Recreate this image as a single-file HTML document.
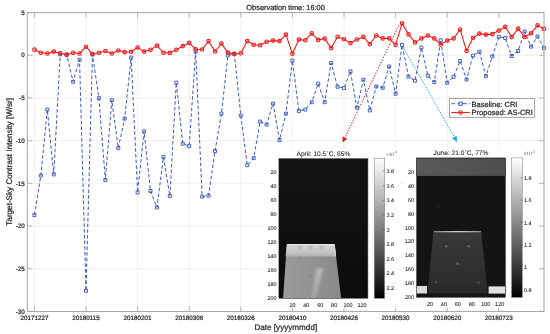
<!DOCTYPE html>
<html><head><meta charset="utf-8"><title>Observation time: 16:00</title>
<style>html,body{margin:0;padding:0;background:#fff;}body{width:550px;height:334px;overflow:hidden;}svg{display:block;}</style>
</head><body>
<svg width="550" height="334" viewBox="0 0 550 334" font-family='"Liberation Sans", Arial, Helvetica, sans-serif'><style>text{stroke:#262626;stroke-width:0.22px;text-rendering:geometricPrecision;} text.sm{stroke-width:0.08px;}</style>
<rect x="0" y="0" width="550" height="334" fill="#ffffff"/>
<path d="M34.40 12.60V311.40M86.00 12.60V311.40M137.60 12.60V311.40M189.20 12.60V311.40M240.80 12.60V311.40M292.40 12.60V311.40M344.00 12.60V311.40M395.60 12.60V311.40M447.20 12.60V311.40M498.80 12.60V311.40M27.30 55.29H544.00M27.30 97.97H544.00M27.30 140.66H544.00M27.30 183.34H544.00M27.30 226.03H544.00M27.30 268.71H544.00" stroke="#ececec" stroke-width="0.8" fill="none"/>
<polyline points="34.40,215.10 40.85,175.60 47.30,109.50 53.75,174.40 60.20,54.30 66.65,54.50 73.10,81.70 79.55,59.70 86.00,290.80 92.45,54.40 98.90,98.10 105.35,180.00 111.80,100.20 118.25,148.10 124.70,118.60 131.15,57.60 137.60,192.40 144.05,131.40 150.50,191.00 156.95,207.50 163.40,157.10 169.85,196.00 176.30,82.70 182.75,143.70 189.20,146.10 195.65,51.50 202.10,196.60 208.55,195.60 215.00,151.10 221.45,113.60 227.90,55.40 234.35,53.80 240.80,115.60 247.25,165.20 253.70,158.10 260.15,121.60 266.60,124.60 273.05,103.60 279.50,140.10 285.95,113.60 292.40,60.60 298.85,110.90 305.30,109.50 311.75,102.20 318.20,83.70 324.65,102.20 331.10,63.00 337.55,86.70 344.00,88.10 350.45,71.40 356.90,107.60 363.35,79.70 369.80,110.40 376.25,86.50 382.70,87.70 389.15,66.60 395.60,93.70 402.05,44.90 408.50,76.60 414.95,80.70 421.40,47.50 427.85,75.60 434.30,82.10 440.75,40.30 447.20,82.70 453.65,76.70 460.10,61.00 466.55,79.50 473.00,55.60 479.45,51.60 485.90,76.10 492.35,56.40 498.80,36.90 505.25,38.00 511.70,56.00 518.15,51.00 524.60,31.50 531.05,46.60 537.50,36.50 543.95,48.00" fill="none" stroke="#3d5abf" stroke-width="1.0" stroke-dasharray="3.5 2.2" stroke-linejoin="round"/>
<path d="M32.90 213.60h3v3h-3zM39.35 174.10h3v3h-3zM45.80 108.00h3v3h-3zM52.25 172.90h3v3h-3zM58.70 52.80h3v3h-3zM65.15 53.00h3v3h-3zM71.60 80.20h3v3h-3zM78.05 58.20h3v3h-3zM84.50 289.30h3v3h-3zM90.95 52.90h3v3h-3zM97.40 96.60h3v3h-3zM103.85 178.50h3v3h-3zM110.30 98.70h3v3h-3zM116.75 146.60h3v3h-3zM123.20 117.10h3v3h-3zM129.65 56.10h3v3h-3zM136.10 190.90h3v3h-3zM142.55 129.90h3v3h-3zM149.00 189.50h3v3h-3zM155.45 206.00h3v3h-3zM161.90 155.60h3v3h-3zM168.35 194.50h3v3h-3zM174.80 81.20h3v3h-3zM181.25 142.20h3v3h-3zM187.70 144.60h3v3h-3zM194.15 50.00h3v3h-3zM200.60 195.10h3v3h-3zM207.05 194.10h3v3h-3zM213.50 149.60h3v3h-3zM219.95 112.10h3v3h-3zM226.40 53.90h3v3h-3zM232.85 52.30h3v3h-3zM239.30 114.10h3v3h-3zM245.75 163.70h3v3h-3zM252.20 156.60h3v3h-3zM258.65 120.10h3v3h-3zM265.10 123.10h3v3h-3zM271.55 102.10h3v3h-3zM278.00 138.60h3v3h-3zM284.45 112.10h3v3h-3zM290.90 59.10h3v3h-3zM297.35 109.40h3v3h-3zM303.80 108.00h3v3h-3zM310.25 100.70h3v3h-3zM316.70 82.20h3v3h-3zM323.15 100.70h3v3h-3zM329.60 61.50h3v3h-3zM336.05 85.20h3v3h-3zM342.50 86.60h3v3h-3zM348.95 69.90h3v3h-3zM355.40 106.10h3v3h-3zM361.85 78.20h3v3h-3zM368.30 108.90h3v3h-3zM374.75 85.00h3v3h-3zM381.20 86.20h3v3h-3zM387.65 65.10h3v3h-3zM394.10 92.20h3v3h-3zM400.55 43.40h3v3h-3zM407.00 75.10h3v3h-3zM413.45 79.20h3v3h-3zM419.90 46.00h3v3h-3zM426.35 74.10h3v3h-3zM432.80 80.60h3v3h-3zM439.25 38.80h3v3h-3zM445.70 81.20h3v3h-3zM452.15 75.20h3v3h-3zM458.60 59.50h3v3h-3zM465.05 78.00h3v3h-3zM471.50 54.10h3v3h-3zM477.95 50.10h3v3h-3zM484.40 74.60h3v3h-3zM490.85 54.90h3v3h-3zM497.30 35.40h3v3h-3zM503.75 36.50h3v3h-3zM510.20 54.50h3v3h-3zM516.65 49.50h3v3h-3zM523.10 30.00h3v3h-3zM529.55 45.10h3v3h-3zM536.00 35.00h3v3h-3zM542.45 46.50h3v3h-3z" fill="none" stroke="#3652b8" stroke-width="0.9"/>
<polyline points="34.40,49.60 40.85,52.70 47.30,53.50 53.75,51.60 60.20,53.20 66.65,54.80 73.10,52.70 79.55,53.50 86.00,46.70 92.45,54.10 98.90,52.70 105.35,51.00 111.80,53.50 118.25,50.50 124.70,52.10 131.15,51.80 137.60,47.50 144.05,51.60 150.50,49.70 156.95,45.60 163.40,52.70 169.85,52.90 176.30,49.70 182.75,46.10 189.20,42.80 195.65,49.30 202.10,49.50 208.55,41.10 215.00,51.50 221.45,43.60 227.90,52.60 234.35,53.90 240.80,53.20 247.25,41.10 253.70,44.70 260.15,45.20 266.60,41.70 273.05,40.60 279.50,41.10 285.95,34.60 292.40,53.70 298.85,39.60 305.30,40.20 311.75,33.40 318.20,39.90 324.65,38.60 331.10,48.10 337.55,36.70 344.00,39.20 350.45,43.10 356.90,39.50 363.35,36.90 369.80,44.20 376.25,35.50 382.70,38.40 389.15,38.40 395.60,44.80 402.05,23.30 408.50,34.40 414.95,42.40 421.40,38.40 427.85,35.50 434.30,38.40 440.75,44.50 447.20,40.60 453.65,38.40 460.10,29.50 466.55,50.80 473.00,37.70 479.45,33.60 485.90,34.60 492.35,34.10 498.80,30.60 505.25,26.80 511.70,37.10 518.15,28.60 524.60,36.90 531.05,33.30 537.50,25.30 543.95,28.90" fill="none" stroke="#f41c1c" stroke-width="1.1" stroke-linejoin="round"/>
<g fill="none" stroke="#f41c1c" stroke-width="1.15"><circle cx="34.40" cy="49.60" r="1.75"/><circle cx="40.85" cy="52.70" r="1.75"/><circle cx="47.30" cy="53.50" r="1.75"/><circle cx="53.75" cy="51.60" r="1.75"/><circle cx="60.20" cy="53.20" r="1.75"/><circle cx="66.65" cy="54.80" r="1.75"/><circle cx="73.10" cy="52.70" r="1.75"/><circle cx="79.55" cy="53.50" r="1.75"/><circle cx="86.00" cy="46.70" r="1.75"/><circle cx="92.45" cy="54.10" r="1.75"/><circle cx="98.90" cy="52.70" r="1.75"/><circle cx="105.35" cy="51.00" r="1.75"/><circle cx="111.80" cy="53.50" r="1.75"/><circle cx="118.25" cy="50.50" r="1.75"/><circle cx="124.70" cy="52.10" r="1.75"/><circle cx="131.15" cy="51.80" r="1.75"/><circle cx="137.60" cy="47.50" r="1.75"/><circle cx="144.05" cy="51.60" r="1.75"/><circle cx="150.50" cy="49.70" r="1.75"/><circle cx="156.95" cy="45.60" r="1.75"/><circle cx="163.40" cy="52.70" r="1.75"/><circle cx="169.85" cy="52.90" r="1.75"/><circle cx="176.30" cy="49.70" r="1.75"/><circle cx="182.75" cy="46.10" r="1.75"/><circle cx="189.20" cy="42.80" r="1.75"/><circle cx="195.65" cy="49.30" r="1.75"/><circle cx="202.10" cy="49.50" r="1.75"/><circle cx="208.55" cy="41.10" r="1.75"/><circle cx="215.00" cy="51.50" r="1.75"/><circle cx="221.45" cy="43.60" r="1.75"/><circle cx="227.90" cy="52.60" r="1.75"/><circle cx="234.35" cy="53.90" r="1.75"/><circle cx="240.80" cy="53.20" r="1.75"/><circle cx="247.25" cy="41.10" r="1.75"/><circle cx="253.70" cy="44.70" r="1.75"/><circle cx="260.15" cy="45.20" r="1.75"/><circle cx="266.60" cy="41.70" r="1.75"/><circle cx="273.05" cy="40.60" r="1.75"/><circle cx="279.50" cy="41.10" r="1.75"/><circle cx="285.95" cy="34.60" r="1.75"/><circle cx="292.40" cy="53.70" r="1.75"/><circle cx="298.85" cy="39.60" r="1.75"/><circle cx="305.30" cy="40.20" r="1.75"/><circle cx="311.75" cy="33.40" r="1.75"/><circle cx="318.20" cy="39.90" r="1.75"/><circle cx="324.65" cy="38.60" r="1.75"/><circle cx="331.10" cy="48.10" r="1.75"/><circle cx="337.55" cy="36.70" r="1.75"/><circle cx="344.00" cy="39.20" r="1.75"/><circle cx="350.45" cy="43.10" r="1.75"/><circle cx="356.90" cy="39.50" r="1.75"/><circle cx="363.35" cy="36.90" r="1.75"/><circle cx="369.80" cy="44.20" r="1.75"/><circle cx="376.25" cy="35.50" r="1.75"/><circle cx="382.70" cy="38.40" r="1.75"/><circle cx="389.15" cy="38.40" r="1.75"/><circle cx="395.60" cy="44.80" r="1.75"/><circle cx="402.05" cy="23.30" r="1.75"/><circle cx="408.50" cy="34.40" r="1.75"/><circle cx="414.95" cy="42.40" r="1.75"/><circle cx="421.40" cy="38.40" r="1.75"/><circle cx="427.85" cy="35.50" r="1.75"/><circle cx="434.30" cy="38.40" r="1.75"/><circle cx="440.75" cy="44.50" r="1.75"/><circle cx="447.20" cy="40.60" r="1.75"/><circle cx="453.65" cy="38.40" r="1.75"/><circle cx="460.10" cy="29.50" r="1.75"/><circle cx="466.55" cy="50.80" r="1.75"/><circle cx="473.00" cy="37.70" r="1.75"/><circle cx="479.45" cy="33.60" r="1.75"/><circle cx="485.90" cy="34.60" r="1.75"/><circle cx="492.35" cy="34.10" r="1.75"/><circle cx="498.80" cy="30.60" r="1.75"/><circle cx="505.25" cy="26.80" r="1.75"/><circle cx="511.70" cy="37.10" r="1.75"/><circle cx="518.15" cy="28.60" r="1.75"/><circle cx="524.60" cy="36.90" r="1.75"/><circle cx="531.05" cy="33.30" r="1.75"/><circle cx="537.50" cy="25.30" r="1.75"/><circle cx="543.95" cy="28.90" r="1.75"/></g>
<line x1="398.80" y1="25.40" x2="344.58" y2="138.27" stroke="#dc1e1e" stroke-width="1" stroke-dasharray="1.5 1.4"/>
<path d="M342.50 142.60L342.49 136.38L347.36 138.72Z" fill="#dc1e1e"/>
<line x1="402.80" y1="46.50" x2="454.73" y2="137.73" stroke="#1ea6e6" stroke-width="1" stroke-dasharray="1.5 1.4"/>
<path d="M457.10 141.90L451.98 138.37L456.68 135.70Z" fill="#1ea6e6"/>
<path d="M34.40 311.40v-5M34.40 12.60v5M86.00 311.40v-5M86.00 12.60v5M137.60 311.40v-5M137.60 12.60v5M189.20 311.40v-5M189.20 12.60v5M240.80 311.40v-5M240.80 12.60v5M292.40 311.40v-5M292.40 12.60v5M344.00 311.40v-5M344.00 12.60v5M395.60 311.40v-5M395.60 12.60v5M447.20 311.40v-5M447.20 12.60v5M498.80 311.40v-5M498.80 12.60v5M27.30 12.60h5M544.00 12.60h-5M27.30 55.29h5M544.00 55.29h-5M27.30 97.97h5M544.00 97.97h-5M27.30 140.66h5M544.00 140.66h-5M27.30 183.34h5M544.00 183.34h-5M27.30 226.03h5M544.00 226.03h-5M27.30 268.71h5M544.00 268.71h-5M27.30 311.40h5M544.00 311.40h-5" stroke="#a8a8a8" stroke-width="0.8" fill="none"/>
<rect x="27.30" y="12.60" width="516.70" height="298.80" fill="none" stroke="#a2a2a2" stroke-width="1.0"/>
<text x="34.40" y="320" font-size="6.3" fill="#262626" text-anchor="middle">20171227</text>
<text x="86.00" y="320" font-size="6.3" fill="#262626" text-anchor="middle">20180115</text>
<text x="137.60" y="320" font-size="6.3" fill="#262626" text-anchor="middle">20180201</text>
<text x="189.20" y="320" font-size="6.3" fill="#262626" text-anchor="middle">20180306</text>
<text x="240.80" y="320" font-size="6.3" fill="#262626" text-anchor="middle">20180326</text>
<text x="292.40" y="320" font-size="6.3" fill="#262626" text-anchor="middle">20180410</text>
<text x="344.00" y="320" font-size="6.3" fill="#262626" text-anchor="middle">20180426</text>
<text x="395.60" y="320" font-size="6.3" fill="#262626" text-anchor="middle">20180530</text>
<text x="447.20" y="320" font-size="6.3" fill="#262626" text-anchor="middle">20180620</text>
<text x="498.80" y="320" font-size="6.3" fill="#262626" text-anchor="middle">20180723</text>
<text x="24.8" y="14.80" font-size="6.3" fill="#262626" text-anchor="end">5</text>
<text x="24.8" y="57.49" font-size="6.3" fill="#262626" text-anchor="end">0</text>
<text x="24.8" y="100.17" font-size="6.3" fill="#262626" text-anchor="end">-5</text>
<text x="24.8" y="142.86" font-size="6.3" fill="#262626" text-anchor="end">-10</text>
<text x="24.8" y="185.54" font-size="6.3" fill="#262626" text-anchor="end">-15</text>
<text x="24.8" y="228.23" font-size="6.3" fill="#262626" text-anchor="end">-20</text>
<text x="24.8" y="270.91" font-size="6.3" fill="#262626" text-anchor="end">-25</text>
<text x="24.8" y="313.60" font-size="6.3" fill="#262626" text-anchor="end">-30</text>
<text x="285.6" y="9.8" font-size="7.4" fill="#262626" text-anchor="middle">Observation time: 16:00</text>
<text x="285.8" y="330" font-size="8.15" fill="#262626" text-anchor="middle">Date [yyyymmdd]</text>
<text transform="translate(12.4 161.8) rotate(-90)" font-size="8.15" fill="#262626" text-anchor="middle">Target-Sky Contrast Intensity [W/sr]</text>
<rect x="449.4" y="98.4" width="85.2" height="18.9" fill="#ffffff" stroke="#8f8f8f" stroke-width="0.8"/>
<path d="M451.3 103.7H454.9M457.4 103.7H459.5M462.2 103.7H466.8M469.1 103.7H469.9" stroke="#3d5abf" stroke-width="1.0"/>
<rect x="459.0" y="102.1" width="3.2" height="3.2" fill="none" stroke="#3652b8" stroke-width="0.9"/>
<line x1="451.3" y1="112.5" x2="469.8" y2="112.5" stroke="#f41c1c" stroke-width="1.1"/>
<circle cx="460.5" cy="112.5" r="1.75" fill="none" stroke="#f41c1c" stroke-width="1.15"/>
<text x="471.6" y="106.8" font-size="7.5" fill="#262626">Baseline: CRI</text>
<text x="471.6" y="115.2" font-size="7.5" fill="#262626">Proposed: AS-CRI</text>
<rect x="263.7" y="149.5" width="135.30" height="158.10" fill="#ffffff"/>
<defs><filter id="bl1" x="-5%" y="-5%" width="110%" height="110%"><feGaussianBlur stdDeviation="0.75"/></filter>
<filter id="bl1b" x="-50%" y="-20%" width="200%" height="140%"><feGaussianBlur stdDeviation="0.8"/></filter><filter id="bl1c" x="-50%" y="-50%" width="200%" height="200%"><feGaussianBlur stdDeviation="0.8"/></filter>
<linearGradient id="tg1" x1="0" y1="0" x2="1" y2="0"><stop offset="0" stop-color="#9c9c9c"/><stop offset="0.5" stop-color="#929292"/><stop offset="1" stop-color="#8a8a8a"/></linearGradient><linearGradient id="st1" x1="0" y1="0" x2="0" y2="1"><stop offset="0" stop-color="#b6b6b6"/><stop offset="1" stop-color="#a2a2a2"/></linearGradient>
<linearGradient id="tb1" x1="0" y1="0" x2="0" y2="1"><stop offset="0" stop-color="#d8d8d8"/><stop offset="0.7" stop-color="#c2c2c2"/><stop offset="1" stop-color="#b0b0b0"/></linearGradient>
<linearGradient id="bk1" x1="0" y1="0" x2="0" y2="1"><stop offset="0" stop-color="#131313"/><stop offset="1" stop-color="#0c0c0c"/></linearGradient>
<clipPath id="cp1"><rect x="278.9" y="158.6" width="89.00" height="139.70"/></clipPath></defs>
<g clip-path="url(#cp1)"><rect x="278.9" y="158.6" width="89.00" height="139.70" fill="url(#bk1)"/>
<g filter="url(#bl1)">
<polygon points="286.9,244.1 334.6,244.1 341.2,299 283.0,299" fill="url(#tg1)"/>
<polygon points="286.9,244.1 334.6,244.1 336.1,256.6 285.6,256.6" fill="url(#tb1)"/>
<rect x="287.5" y="244.0" width="46.5" height="1.2" fill="#e4e4e4"/><polygon points="333.4,244.6 334.8,244.6 336.2,256.6 334.8,256.6" fill="#d0d0d0"/>
<g filter="url(#bl1c)"><circle cx="299.9" cy="247.6" r="1.6" fill="#a2a2a2"/><circle cx="310.2" cy="247.6" r="1.6" fill="#a2a2a2"/><circle cx="321.3" cy="247.6" r="1.6" fill="#a2a2a2"/>
<circle cx="299.9" cy="258.6" r="1.5" fill="#868686"/><circle cx="322.0" cy="258.6" r="1.5" fill="#868686"/><circle cx="311" cy="276" r="1.1" fill="#7a7a7a"/></g>
<rect x="342" y="280" width="24" height="14" fill="#111111"/>
</g>
<polygon points="316.3,268.2 323.5,268.2 315.7,299 311,299" fill="url(#st1)" filter="url(#bl1b)"/>
</g>
<rect x="278.9" y="158.6" width="89.00" height="139.70" fill="none" stroke="#1a1a1a" stroke-width="0.5"/>
<text x="276.50" y="174.42" font-size="5.4" fill="#262626" class="sm" text-anchor="end">20</text>
<text x="276.50" y="188.39" font-size="5.4" fill="#262626" class="sm" text-anchor="end">40</text>
<text x="276.50" y="202.36" font-size="5.4" fill="#262626" class="sm" text-anchor="end">60</text>
<text x="276.50" y="216.33" font-size="5.4" fill="#262626" class="sm" text-anchor="end">80</text>
<text x="276.50" y="230.30" font-size="5.4" fill="#262626" class="sm" text-anchor="end">100</text>
<text x="276.50" y="244.27" font-size="5.4" fill="#262626" class="sm" text-anchor="end">120</text>
<text x="276.50" y="258.24" font-size="5.4" fill="#262626" class="sm" text-anchor="end">140</text>
<text x="276.50" y="272.21" font-size="5.4" fill="#262626" class="sm" text-anchor="end">160</text>
<text x="276.50" y="286.18" font-size="5.4" fill="#262626" class="sm" text-anchor="end">180</text>
<text x="276.50" y="300.15" font-size="5.4" fill="#262626" class="sm" text-anchor="end">200</text>
<text x="292.46" y="306.50" font-size="5.5" fill="#262626" class="sm" text-anchor="middle">20</text>
<text x="306.36" y="306.50" font-size="5.5" fill="#262626" class="sm" text-anchor="middle">40</text>
<text x="320.27" y="306.50" font-size="5.5" fill="#262626" class="sm" text-anchor="middle">60</text>
<text x="334.18" y="306.50" font-size="5.5" fill="#262626" class="sm" text-anchor="middle">80</text>
<text x="348.08" y="306.50" font-size="5.5" fill="#262626" class="sm" text-anchor="middle">100</text>
<text x="361.99" y="306.50" font-size="5.5" fill="#262626" class="sm" text-anchor="middle">120</text>
<text x="323.40" y="156.00" font-size="6.6" fill="#262626" class="sm" text-anchor="middle">April: 10.5<tspan font-size="4.2" dx="0.5" dy="-2.3">&#176;</tspan><tspan dx="0.2" dy="2.3">C, 65%</tspan></text>
<defs><linearGradient id="cg374" x1="0" y1="0" x2="0" y2="1"><stop offset="0" stop-color="#ffffff"/><stop offset="1" stop-color="#000000"/></linearGradient></defs>
<rect x="374.2" y="158.6" width="10.50" height="139.70" fill="url(#cg374)" stroke="#8a8a8a" stroke-width="0.6"/>
<text x="386.50" y="173.00" font-size="5.4" fill="#262626" class="sm">3.8</text>
<text x="386.50" y="187.64" font-size="5.4" fill="#262626" class="sm">3.6</text>
<text x="386.50" y="202.28" font-size="5.4" fill="#262626" class="sm">3.4</text>
<text x="386.50" y="216.92" font-size="5.4" fill="#262626" class="sm">3.2</text>
<text x="386.50" y="231.56" font-size="5.4" fill="#262626" class="sm">3</text>
<text x="386.50" y="246.20" font-size="5.4" fill="#262626" class="sm">2.8</text>
<text x="386.50" y="260.84" font-size="5.4" fill="#262626" class="sm">2.6</text>
<text x="386.50" y="275.48" font-size="5.4" fill="#262626" class="sm">2.4</text>
<text x="386.50" y="290.12" font-size="5.4" fill="#262626" class="sm">2.2</text>
<path d="M384.70 171.00h-1.6M384.70 185.64h-1.6M384.70 200.28h-1.6M384.70 214.92h-1.6M384.70 229.56h-1.6M384.70 244.20h-1.6M384.70 258.84h-1.6M384.70 273.48h-1.6M384.70 288.12h-1.6" stroke="#262626" stroke-width="0.5"/>
<text x="385.90" y="155.60" font-size="4.8" fill="#5a5a5a" style="stroke:none">&#215;10<tspan font-size="3.5" dy="-2.3">-3</tspan></text>
<rect x="404.5" y="149.5" width="133.50" height="158.10" fill="#ffffff"/>
<defs><filter id="bl2" x="-5%" y="-5%" width="110%" height="110%"><feGaussianBlur stdDeviation="0.6"/></filter>
<filter id="bl2b" x="-10%" y="-10%" width="120%" height="120%"><feGaussianBlur stdDeviation="0.55"/></filter>
<linearGradient id="bd2" x1="0" y1="0" x2="1" y2="0"><stop offset="0" stop-color="#5a5a5a"/><stop offset="1" stop-color="#4e4e4e"/></linearGradient>
<linearGradient id="tz2" x1="0" y1="0" x2="0" y2="1"><stop offset="0" stop-color="#393939"/><stop offset="1" stop-color="#2a2a2a"/></linearGradient>
<linearGradient id="tl2" x1="0" y1="0" x2="1" y2="0"><stop offset="0" stop-color="#808080"/><stop offset="0.5" stop-color="#d0d0d0"/><stop offset="1" stop-color="#909090"/></linearGradient>
<clipPath id="cp2"><rect x="416.4" y="157.9" width="89.20" height="139.50"/></clipPath></defs>
<g clip-path="url(#cp2)"><rect x="416.4" y="157.9" width="89.20" height="139.50" fill="#141414"/>
<rect x="416" y="157.2" width="90" height="18.7" fill="url(#bd2)" filter="url(#bl2)"/><rect x="416.4" y="157.9" width="89.2" height="0.8" fill="#3c3c3c"/>
<polygon points="433.4,231.7 481.1,231.7 487.8,293.5 427.6,293.5" fill="url(#tz2)" filter="url(#bl2b)"/>
<g filter="url(#bl2)">
<rect x="433.6" y="231.0" width="47.4" height="1.3" fill="url(#tl2)"/>
<rect x="416" y="286.0" width="11.0" height="7.5" fill="#dcdcdc"/>
<rect x="488.6" y="286.4" width="16.4" height="7.2" fill="#e2e2e2"/>
<circle cx="446.2" cy="246.3" r="1.2" fill="#686868"/><circle cx="468.6" cy="246.3" r="1.2" fill="#686868"/><circle cx="457.6" cy="263.7" r="1.2" fill="#686868"/>
<circle cx="436.0" cy="282.3" r="1.1" fill="#5a5a5a"/><circle cx="478.5" cy="282.6" r="1.1" fill="#5a5a5a"/><circle cx="438" cy="206" r="0.7" fill="#404040"/>
</g></g>
<rect x="416.4" y="157.9" width="89.20" height="139.50" fill="none" stroke="#1a1a1a" stroke-width="0.5"/>
<text x="414.00" y="173.70" font-size="5.4" fill="#262626" class="sm" text-anchor="end">20</text>
<text x="414.00" y="187.65" font-size="5.4" fill="#262626" class="sm" text-anchor="end">40</text>
<text x="414.00" y="201.60" font-size="5.4" fill="#262626" class="sm" text-anchor="end">60</text>
<text x="414.00" y="215.55" font-size="5.4" fill="#262626" class="sm" text-anchor="end">80</text>
<text x="414.00" y="229.50" font-size="5.4" fill="#262626" class="sm" text-anchor="end">100</text>
<text x="414.00" y="243.45" font-size="5.4" fill="#262626" class="sm" text-anchor="end">120</text>
<text x="414.00" y="257.40" font-size="5.4" fill="#262626" class="sm" text-anchor="end">140</text>
<text x="414.00" y="271.35" font-size="5.4" fill="#262626" class="sm" text-anchor="end">160</text>
<text x="414.00" y="285.30" font-size="5.4" fill="#262626" class="sm" text-anchor="end">180</text>
<text x="414.00" y="299.25" font-size="5.4" fill="#262626" class="sm" text-anchor="end">200</text>
<text x="429.99" y="305.60" font-size="5.5" fill="#262626" class="sm" text-anchor="middle">20</text>
<text x="443.93" y="305.60" font-size="5.5" fill="#262626" class="sm" text-anchor="middle">40</text>
<text x="457.86" y="305.60" font-size="5.5" fill="#262626" class="sm" text-anchor="middle">60</text>
<text x="471.80" y="305.60" font-size="5.5" fill="#262626" class="sm" text-anchor="middle">80</text>
<text x="485.74" y="305.60" font-size="5.5" fill="#262626" class="sm" text-anchor="middle">100</text>
<text x="499.68" y="305.60" font-size="5.5" fill="#262626" class="sm" text-anchor="middle">120</text>
<text x="461.00" y="155.30" font-size="6.6" fill="#262626" class="sm" text-anchor="middle">June: 21.0<tspan font-size="4.2" dx="0.5" dy="-2.3">&#176;</tspan><tspan dx="0.2" dy="2.3">C, 77%</tspan></text>
<defs><linearGradient id="cg511" x1="0" y1="0" x2="0" y2="1"><stop offset="0" stop-color="#ffffff"/><stop offset="1" stop-color="#000000"/></linearGradient></defs>
<rect x="511.6" y="157.9" width="10.70" height="139.50" fill="url(#cg511)" stroke="#8a8a8a" stroke-width="0.6"/>
<text x="524.10" y="179.70" font-size="5.4" fill="#262626" class="sm">1.8</text>
<text x="524.10" y="202.12" font-size="5.4" fill="#262626" class="sm">1.6</text>
<text x="524.10" y="224.54" font-size="5.4" fill="#262626" class="sm">1.4</text>
<text x="524.10" y="246.96" font-size="5.4" fill="#262626" class="sm">1.2</text>
<text x="524.10" y="269.38" font-size="5.4" fill="#262626" class="sm">1</text>
<text x="524.10" y="291.80" font-size="5.4" fill="#262626" class="sm">0.8</text>
<path d="M522.30 177.70h-1.6M522.30 200.12h-1.6M522.30 222.54h-1.6M522.30 244.96h-1.6M522.30 267.38h-1.6M522.30 289.80h-1.6" stroke="#262626" stroke-width="0.5"/>
<text x="523.50" y="154.90" font-size="4.8" fill="#5a5a5a" style="stroke:none">&#215;10<tspan font-size="3.5" dy="-2.3">-3</tspan></text>
</svg>
</body></html>
